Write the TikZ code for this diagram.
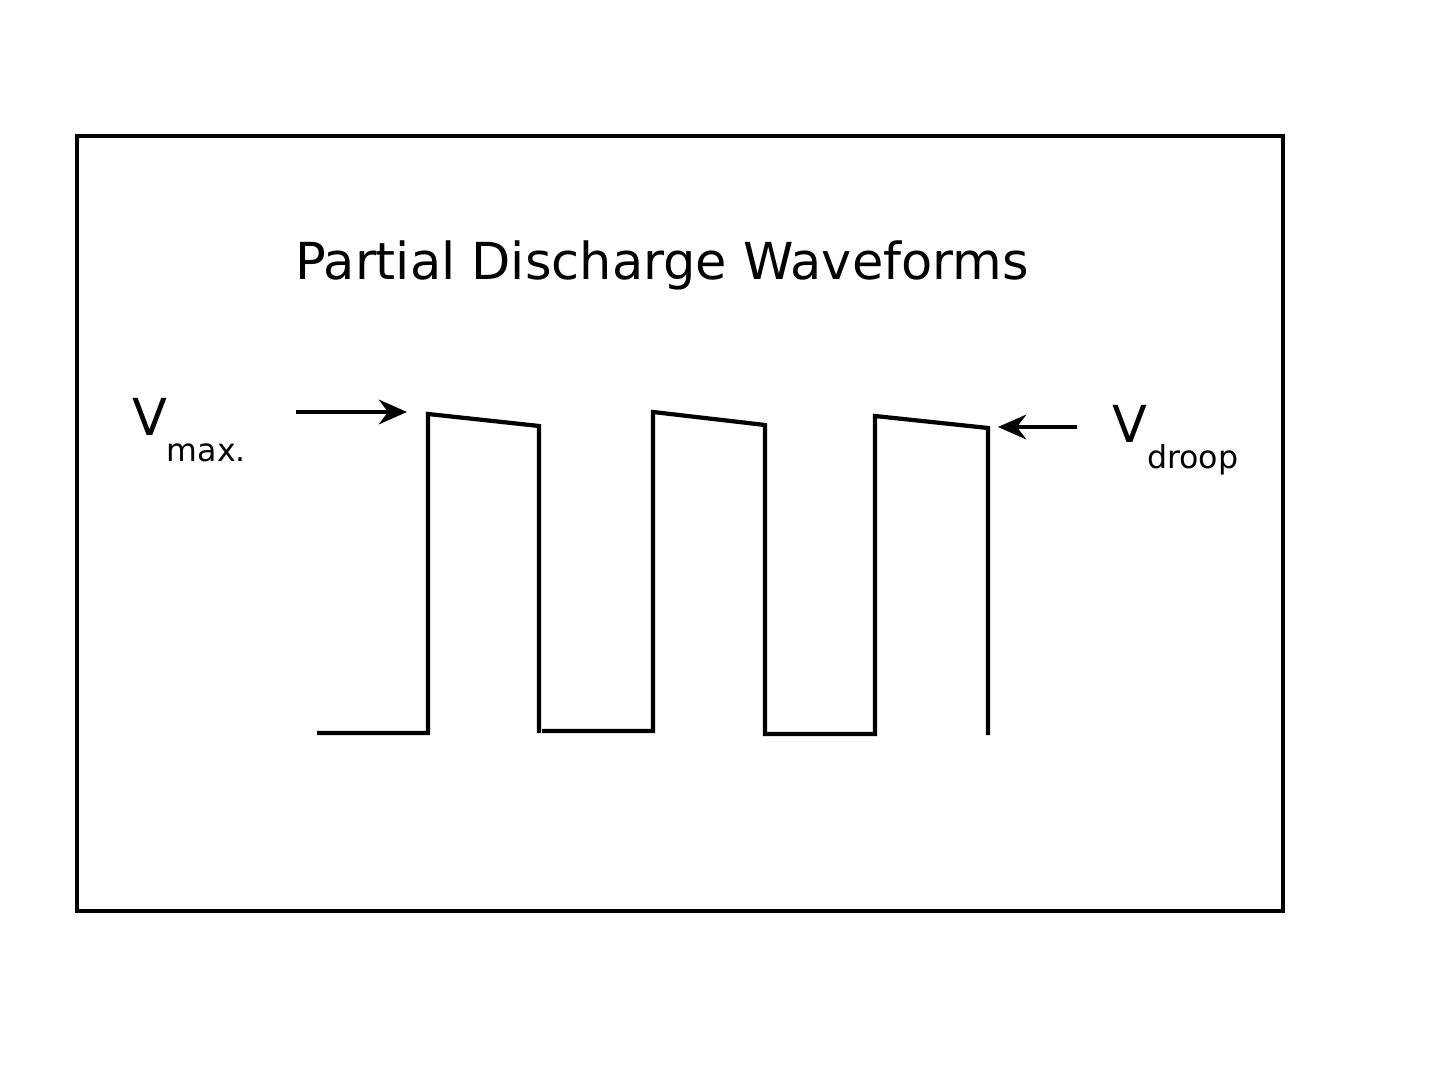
\documentclass[tikz,border=0pt]{standalone}
\usepackage{fontspec}
\setmainfont{DejaVu Sans}
\usetikzlibrary{arrows.meta}
\newcommand{\bigtxt}{\fontsize{14.5}{17}\selectfont}
\newcommand{\subtxt}{\fontsize{9}{11}\selectfont}

\begin{document}
\begin{tikzpicture}[x=0.01cm, y=-0.01cm, line width=1.2pt,
        tip/.style={-{Stealth[length=8pt, width=7pt]}}]
        \useasboundingbox (0,0) rectangle (1431,1080);
        \draw (77,136) rectangle (1283,911);

        \node (title) at (662,265) {\bigtxt Partial Discharge Waveforms};

        \coordinate (w0) at (317,733);
        \coordinate (w1) at (428,733);
        \coordinate (w2) at (428,414);
        \coordinate (w3) at (539,426);
        \coordinate (w4) at (539,733);
        \coordinate (w5) at (542,731);
        \coordinate (w6) at (653,731);
        \coordinate (w7) at (653,412);
        \coordinate (w8) at (765,425);
        \coordinate (w9) at (765,734);
        \coordinate (w10) at (875,734);
        \coordinate (w11) at (875,416);
        \coordinate (w12) at (988,428);
        \coordinate (w13) at (988,735);

        \draw
            (w0) -- (w1) -- (w2) -- (w3) -- (w4)
            (w5) -- (w6) -- (w7) -- (w8) -- (w9)
            -- (w10) -- (w11) -- (w12) -- (w13)
            ;

        \coordinate (a0) at (296,412);
        \coordinate (a1) at (407,412);
        \coordinate (b0) at (1077,427);
        \coordinate (b1) at (998,427);
        \draw[tip] (a0) -- (a1);
        \draw[tip] (b0) -- (b1);

        \node[anchor=west, inner sep=0pt] (vmax) at (130,430)
            {\bigtxt V\raisebox{-0.5em}{\subtxt max.}};
        \node[anchor=west, inner sep=0pt] (vdroop) at (1110,440)
            {\bigtxt V\raisebox{-0.5em}{\subtxt droop}};
    \end{tikzpicture}
\end{document}
